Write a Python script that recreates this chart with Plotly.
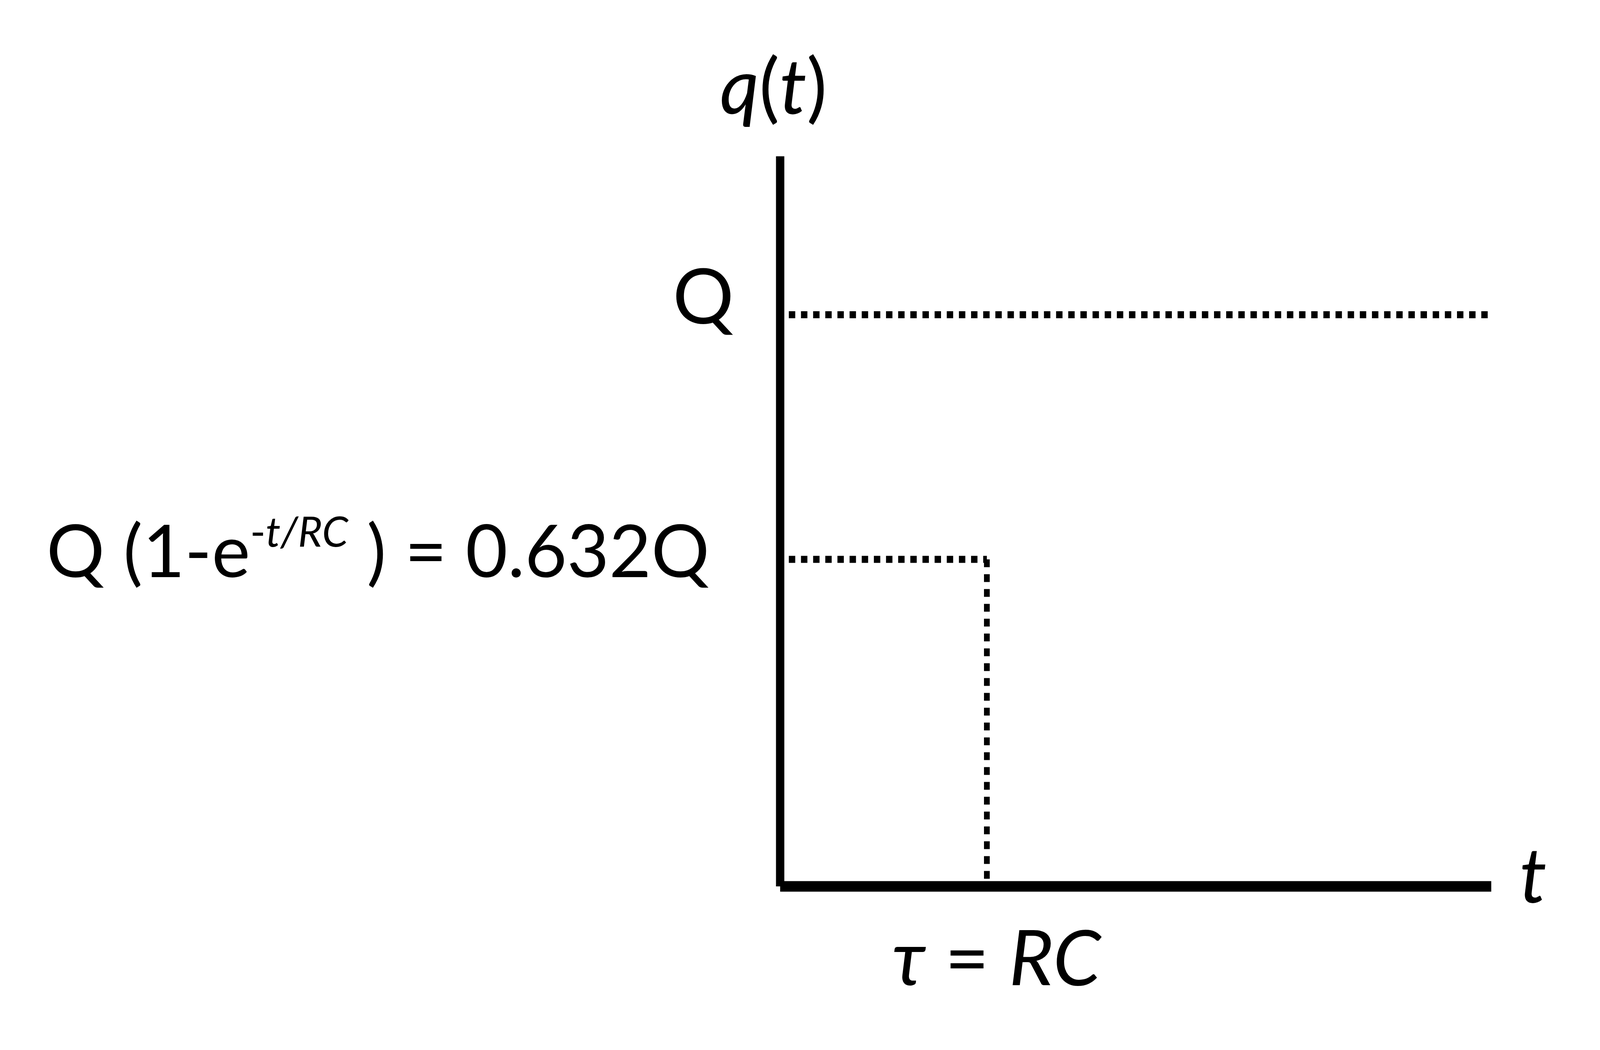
import plotly.graph_objects as go

# Valores del diagrama (unidades: t en tau, q en Q)
t_axis_end = 3.44      # fin del eje t
q_axis_top = 1.277     # fin del eje q
Q_level = 1.0          # nivel Q
q_tau_level = 0.572    # nivel 0.632Q (como está dibujado)
tau = 1.0              # tau = RC
t_dot_start = 0.042    # donde arrancan las líneas punteadas

fig = go.Figure()

punteado_h = dict(color='black', width=18, dash='16.4px,14.7px')
punteado_v = dict(color='black', width=14.7, dash='20px,18px')

# Línea punteada en Q
fig.add_trace(go.Scatter(
    x=[t_dot_start, t_axis_end], y=[Q_level, Q_level],
    mode='lines', line=punteado_h, hoverinfo='skip'
))

# Línea punteada en 0.632Q
fig.add_trace(go.Scatter(
    x=[t_dot_start, tau], y=[q_tau_level, q_tau_level],
    mode='lines', line=punteado_h, hoverinfo='skip'
))

# Bajada punteada en tau
fig.add_trace(go.Scatter(
    x=[tau, tau], y=[q_tau_level, 0],
    mode='lines', line=punteado_v, hoverinfo='skip'
))

# Ejes dibujados a mano
fig.add_trace(go.Scatter(
    x=[0, 0], y=[0, q_axis_top],
    mode='lines', line=dict(color='black', width=21.3), hoverinfo='skip'
))
fig.add_trace(go.Scatter(
    x=[0, t_axis_end], y=[0, 0],
    mode='lines', line=dict(color='black', width=27), hoverinfo='skip'
))

fuente = dict(family='Lato', size=196, color='black')
fuente_formula = dict(family='Lato', size=186, color='black')

fig.add_annotation(x=0, y=q_axis_top, xref='x', yref='y',
                   text='<i>q</i>(<i>t</i>)', showarrow=False,
                   xanchor='center', yanchor='middle', xshift=-17, yshift=185, font=fuente)
fig.add_annotation(x=0, y=Q_level, xref='x', yref='y',
                   text='Q', showarrow=False,
                   xanchor='right', yanchor='middle', xshift=-116, yshift=52, font=fuente)
fig.add_annotation(x=0, y=q_tau_level, xref='x', yref='y',
                   text='Q (1-e<sup><span style="font-size:107px">-<i>t/RC</i></span></sup> ) = 0.632Q',
                   showarrow=False,
                   xanchor='right', yanchor='middle', xshift=-179, yshift=26, font=fuente_formula)
fig.add_annotation(x=tau, y=0, xref='x', yref='y',
                   text='<i>τ</i> = <i>RC</i>', showarrow=False,
                   xanchor='center', yanchor='middle', xshift=26, yshift=-178, font=fuente)
fig.add_annotation(x=t_axis_end, y=0, xref='x', yref='y',
                   text='<i>t</i>', showarrow=False,
                   xanchor='left', yanchor='middle', xshift=70, yshift=34, font=fuente)

fig.update_layout(
    margin=dict(l=0, r=0, t=0, b=0),
    paper_bgcolor='white',
    plot_bgcolor='white',
    showlegend=False,
    xaxis=dict(range=[-3.759, 3.951], visible=False, fixedrange=True),
    yaxis=dict(range=[-0.2808, 1.5450], visible=False, fixedrange=True),
)

fig.write_html("out.html")
